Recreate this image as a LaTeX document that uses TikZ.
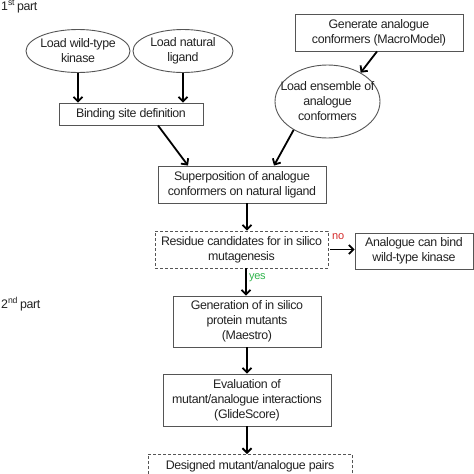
\documentclass[tikz,border=0pt]{standalone}
\usepackage{fontspec}
\setmainfont{Liberation Sans}[LetterSpace=-3]
\usetikzlibrary{shapes.geometric,arrows.meta}
\definecolor{boxgray}{HTML}{555555}
\definecolor{txtgray}{HTML}{222222}
\definecolor{nored}{HTML}{D42A2A}
\definecolor{yesgreen}{HTML}{2DB34A}
\tikzset{
  x=1pt,y=-1pt,
  every node/.style={font=\fontsize{12.4}{15}\selectfont, text=txtgray},
  rbox/.style={draw=boxgray, line width=0.9pt, rectangle, inner sep=0pt, align=center},
  dbox/.style={rbox, densely dashed, line width=0.7pt},
  oval/.style={draw=boxgray, line width=0.9pt, ellipse, inner sep=0pt},
  txt/.style={align=center, inner sep=0pt},
  arr/.style={draw=black, line width=1.8pt, -{Straight Barb[length=4.5pt,width=9pt,line width=1.8pt]}},
  lbl/.style={inner sep=0pt, font=\fontsize{11}{12}\selectfont},
}
\begin{document}
\begin{tikzpicture}
\clip (0,0) rectangle (474,474);
% part labels
\node[anchor=base west, inner sep=0pt] (p1) at (1,10) {1\textsuperscript{st}\,part};
\node[anchor=base west, inner sep=0pt] (p2) at (1,308) {2\textsuperscript{nd}\,part};
% ellipses
\node[oval, minimum width=104, minimum height=43] (k) at (78,51) {};
\node[txt] (kt) at (k.center) {Load wild-type\\kinase};
\node[oval, minimum width=100, minimum height=43] (l) at (183,51) {};
\node[txt] (lt) at (l.center) {Load natural\\ligand};
\node[oval, minimum width=105, minimum height=73] (e) at (327.5,101.5) {};
\node[txt] (et) at (e.center) {Load ensemble of\\analogue\\conformers};
% boxes
\node[rbox, minimum width=144, minimum height=22] (b) at (131,114) {Binding site definition};
\node[rbox, minimum width=168, minimum height=37] (g) at (379,32.5) {Generate analogue\\conformers (MacroModel)};
\node[rbox, minimum width=168, minimum height=37] (s) at (242,184.5) {Superposition of analogue\\conformers on natural ligand};
\node[dbox, minimum width=173, minimum height=37] (r) at (241.5,249.5) {Residue candidates for in silico\\mutagenesis};
\node[rbox, minimum width=118, minimum height=36] (a) at (414,251) {Analogue can bind\\wild-type kinase};
\node[rbox, minimum width=148, minimum height=51] (m) at (247,321.5) {Generation of in silico\\protein mutants\\(Maestro)};
\node[rbox, minimum width=168, minimum height=52] (v) at (247,400) {Evaluation of\\mutant/analogue interactions\\(GlideScore)};
\node[dbox, minimum width=204, minimum height=30, anchor=north] (d) at (250,454) {};
\node[txt, anchor=base] (dt) at (250,469) {Designed mutant/analogue pairs};
% arrows
\draw[arr] (k.south) -- (k.south |- b.north);
\draw[arr] (l.south) -- (l.south |- b.north);
\draw[arr] ([xshift=-2pt]g.south) -- (e.41);
\draw[arr] ([xshift=27pt]b.south) -- ([xshift=-54pt]s.north);
\draw[arr] (e.220) -- ([xshift=32pt]s.north);
\draw[arr] ([xshift=5pt]s.south) -- ([xshift=5pt]s.south |- r.north);
\draw[arr] ([xshift=2pt]r.east) -- (r.east -| a.west);
\draw[arr] ([xshift=4.5pt]r.south) -- ([xshift=4.5pt]r.south |- m.north);
\draw[arr] (m.south) -- (m.south |- v.north);
\draw[arr] (v.south) -- (v.south |- d.north);
% labels
\node[lbl, text=nored, anchor=west] (no) at (332,237) {no};
\node[lbl, text=yesgreen, anchor=west] (yes) at (249,278) {yes};
\end{tikzpicture}
\end{document}
